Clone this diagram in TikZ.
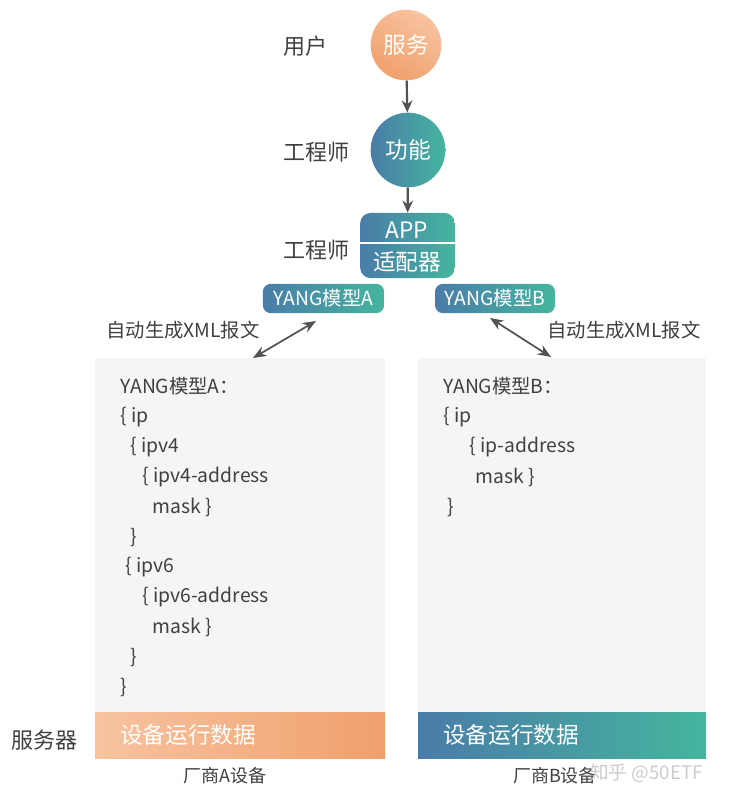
\documentclass[tikz,border=0pt]{standalone}
\usepackage{fontspec}
\setmainfont{Noto Sans CJK SC}
\usetikzlibrary{arrows.meta}
\definecolor{txt}{HTML}{404040}
\definecolor{og1}{HTML}{F7C3A0}
\definecolor{og2}{HTML}{F0A06C}
\definecolor{bl}{HTML}{4A7CA8}
\definecolor{tl}{HTML}{45B59E}
\definecolor{pane}{HTML}{F5F5F5}
\tikzset{
 lbl/.style={text=txt,font=\fontsize{16.5}{17}\selectfont},
 code/.style={text=txt,font=\fontsize{14.5}{15}\selectfont,anchor=west,inner sep=0},
 arr/.style={-{Stealth[length=9pt,width=8pt]},line width=1.6pt,draw=txt!90},
 darr/.style={{Stealth[length=10pt,width=8pt]}-{Stealth[length=10pt,width=8pt]},line width=1.3pt,draw=txt!90},
 ybox/.style={rounded corners=6pt,left color=bl,right color=tl,text=white,minimum height=22pt,font=\fontsize{14.5}{15}\selectfont,inner sep=0}
}
\begin{document}
\begin{tikzpicture}[x=0.75pt,y=-0.75pt]
\useasboundingbox (0,0) rectangle (732,804);
\node[lbl] (u) at (305,46) {用户};
\node[circle,minimum size=53pt,inner sep=0,top color=og1,bottom color=og2,shading angle=-30,text=white,font=\fontsize{17}{17}\selectfont] (fw) at (406,45) {服务};
\node[lbl] (e1) at (316,152) {工程师};
\node[circle,minimum size=56pt,inner sep=0,left color=bl,right color=tl,text=white,font=\fontsize{17}{17}\selectfont] (gn) at (408,150) {功能};
\node[rounded corners=8pt,left color=bl,right color=tl,minimum width=71pt,minimum height=49pt,inner sep=0] (app) at (407.5,245.5) {};
\draw[white,line width=0.8pt] (app.west|-0,243) -- (app.east|-0,243);
\node[text=white,font=\fontsize{17}{17}\selectfont] (appt) at (407,230) {APP};
\node[text=white,font=\fontsize{17}{17}\selectfont] (adp) at (407,262) {适配器};
\node[lbl] (e2) at (316,250) {工程师};
\draw[arr] (fw) -- (gn);
\draw[arr] (gn) -- (app);
\node[ybox,minimum width=91pt] (ya) at (323.5,298.5) {YANG模型A};
\node[ybox,minimum width=90pt] (yb) at (495,298.5) {YANG模型B};
\node[lbl,font=\fontsize{14.5}{15}\selectfont] (la) at (183,330) {自动生成XML报文};
\node[lbl,font=\fontsize{14.5}{15}\selectfont] (lb) at (624,330) {自动生成XML报文};
\fill[pane] (95,358) rectangle (385,712);
\fill[pane] (418,358) rectangle (706,712);
\coordinate (pa) at (253,358);
\coordinate (pb) at (551,357);
\draw[darr] (316,321) -- (pa);
\draw[darr] (490,318) -- (pb);
\node[left color=og1,right color=og2,minimum width=217.5pt,minimum height=34.5pt,inner sep=0] (bara) at (240,735) {};
\node[left color=bl,right color=tl,minimum width=216pt,minimum height=34.5pt,inner sep=0] (barb) at (562,735) {};
\node[text=white,font=\fontsize{17}{17}\selectfont,anchor=west,inner sep=0] (da) at (120,735) {设备运行数据};
\node[text=white,font=\fontsize{17}{17}\selectfont,anchor=west,inner sep=0] (db) at (443,735) {设备运行数据};
\node[lbl] (srv) at (45,740) {服务器};
\node[lbl,font=\fontsize{13.5}{14}\selectfont] (va) at (225,776) {厂商A设备};
\node[lbl,font=\fontsize{13.5}{14}\selectfont] (vb) at (555,776) {厂商B设备};
\node[text=gray!40,font=\fontsize{14}{14}\selectfont,anchor=west,inner sep=0] (wm) at (590,773) {知乎 @50ETF};
\foreach \x/\y/\t [count=\i] in {120/386/YANG模型A：,120/417/\{ ip,130/447/\{ ipv4,142/477/\{ ipv4-address,152/507/mask \},130/537/\},125/567/\{ ipv6,142/597/\{ ipv6-address,152/627/mask \},130/657/\},120/687/\}}
  \node[code] (ca\i) at (\x,\y) {\t};
\foreach \x/\y/\t [count=\i] in {443/386/YANG模型B：,443/417/\{ ip,469/447/\{ ip-address,475/477/mask \},447/507/\}}
  \node[code] (cb\i) at (\x,\y) {\t};
\end{tikzpicture}
\end{document}
